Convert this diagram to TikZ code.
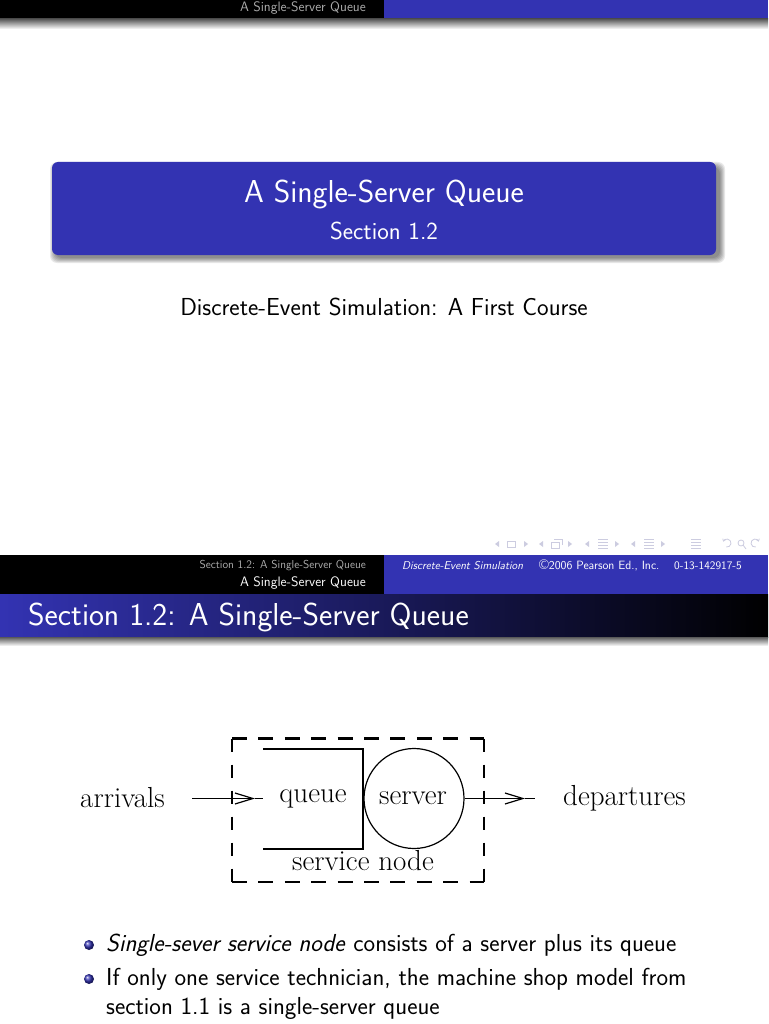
\documentclass[tikz,border=0pt]{standalone}
\usepackage{xcolor}
\usetikzlibrary{arrows.meta,calc,positioning,shadings}
\definecolor{structblue}{rgb}{0.2,0.2,0.7}
\definecolor{headgray}{rgb}{0.68,0.68,0.68}
\definecolor{navgray}{rgb}{0.80,0.80,0.88}
\definecolor{ballblue}{rgb}{0.2,0.2,0.7}
\tikzset{%
	headtext/.style = {inner sep=0pt, font=\sffamily\fontsize{11.5}{13}\selectfont, text=headgray},
	smallhead/.style= {inner sep=0pt, font=\sffamily\fontsize{13.7}{15}\selectfont, text=headgray},
	bigtitle/.style = {inner sep=0pt, font=\sffamily\fontsize{31.7}{35}\selectfont, text=white},
	bodytext/.style = {inner sep=0pt, anchor=base west, font=\sffamily\fontsize{24.6}{28}\selectfont},
	figtext/.style  = {inner sep=0pt, anchor=base, font=\rmfamily\fontsize{29}{33}\selectfont},
	ballmark/.style = {circle, inner sep=0pt, minimum size=10pt, shading=ball, ball color=ballblue},
	dashh/.style    = {line width=2.8pt, dash pattern=on 15pt off 11.4pt},
	dashv/.style    = {line width=2.8pt, dash pattern=on 13.5pt off 12.5pt},
	wall/.style     = {line width=2.8pt},
	flow/.style     = {line width=1.2pt},
	flowtip/.style  = {line width=1.2pt, -{Straight Barb[length=18pt,width=11pt]}},
	navline/.style  = {navgray, line width=0.8pt},
}
\begin{document}
\begin{tikzpicture}[x=1pt,y=-1pt]
			\useasboundingbox (0,0) rectangle (768,1024);
			\fill[white] (0,0) rectangle (768,1024);
			\fill[black] (0,0) rectangle (384,19);
			\fill[structblue] (384,0) rectangle (768,19);
			\shade[top color=black!65,bottom color=white] (0,19) rectangle (768,29);
			\node[smallhead,anchor=east] (toptext) at (366,8) {A Single-Server Queue};
			\foreach \g in {0,1,...,5}
				\fill[black,opacity=0.09,rounded corners=7pt] (55-\g,167-\g) rectangle (720+\g,258+\g);
			\fill[structblue,rounded corners=6pt] (52,162) rectangle (716,255);
			\node[bigtitle] (maintitle) at (384,194) {A Single-Server Queue};
			\node[bodytext,anchor=center,text=white] (subtitle) at (384,231) {Section 1.2};
			\node[bodytext,anchor=center] (course) at (384,307) {Discrete-Event Simulation: A First Course};
			\foreach \x in {497,541,587,633}
				\fill[navgray] (\x+2,541) -- (\x+2,547) -- (\x-2,544) -- cycle;
			\foreach \x in {526,570,617,663}
				\fill[navgray] (\x-2,541) -- (\x-2,547) -- (\x+2,544) -- cycle;
			\draw[navline] (507,541) rectangle (515,547);
			\draw[navline] (551,542) rectangle (559,548);
			\draw[navline] (554,539) -- (562,539) -- (562,545);
			\foreach \x in {603,649,696}
				\foreach \y in {539,542,545,548}
					\draw[navline] (\x-5,\y) -- (\x+5,\y);
			\draw[navline,-{Straight Barb[length=2pt,width=3pt]}] (726.3,547) arc (100:-160:4);
			\draw[navline] (741,543) circle (3);
			\draw[navline] (743,545) -- (746,549);
			\draw[navline,-{Straight Barb[length=2pt,width=3pt]}] (755.7,547) arc (80:340:4);
			\fill[black] (0,555) rectangle (384,594);
			\fill[structblue] (384,555) rectangle (768,594);
			\shade[left color=structblue,right color=black] (0,594) rectangle (768,637);
			\shade[top color=black!65,bottom color=white] (0,637) rectangle (768,646);
			\node[headtext,anchor=east] (sectext) at (366,565.5) {Section 1.2: A Single-Server Queue};
			\node[smallhead,anchor=east,text=white] (subtext) at (366,583) {A Single-Server Queue};
			\node[headtext,anchor=west,text=white,font=\sffamily\itshape\fontsize{11.4}{13}\selectfont] (foottitle) at (402,565.5) {Discrete-Event Simulation};
			\node[headtext,anchor=west,text=white] (footcopy) at (539,565.5) {\fontsize{14}{14}\selectfont\textcopyright\fontsize{12}{13}\selectfont 2006 Pearson Ed., Inc.};
			\node[headtext,anchor=east,text=white] (footisbn) at (742,565.5) {0-13-142917-5};
			\node[bigtitle,anchor=west] (frametitle) at (28,617) {Section 1.2: A Single-Server Queue};
			\draw[dashh] (232,738.5) -- (484,738.5);
			\draw[dashh] (232,882) -- (484,882);
			\draw[dashv] (232,738.5) -- (232,882);
			\draw[dashv] (484,738.5) -- (484,882);
			\draw[wall] (263,749) -- (363,749) -- (363,849) -- (263,849);
			\node[draw,circle,minimum size=100pt,inner sep=0pt,line width=1.2pt] (server) at (414,798.5) {};
			\node[figtext] (servertext) at (413,804.5) {server};
			\node[figtext] (queuetext) at (313,802) {queue};
			\node[figtext] (nodetext) at (363,870) {service node};
			\node[figtext,anchor=base west] (arrivals) at (80,807.3) {arrivals};
			\node[figtext,anchor=base west] (departures) at (563,805) {departures};
			\coordinate (arrstart) at (192,798.5);
			\coordinate (arrtip) at (255,798.5);
			\coordinate (arrend) at (263,798.5);
			\coordinate (deptip) at (525,798.5);
			\coordinate (depend) at (535,798.5);
			\draw[flowtip] (arrstart) -- (arrtip);
			\draw[flow] (arrtip) -- (arrend);
			\draw[flowtip] (server.east) -- (deptip);
			\draw[flow] (deptip) -- (depend);
			\node[ballmark] (ballone) at (89,945) {};
			\node[ballmark] (balltwo) at (89,979) {};
			\node[bodytext] (lineone) at (106,951) {\textit{Single-sever service node} consists of a server plus its queue};
			\node[bodytext] (linetwo) at (106,985) {If only one service technician, the machine shop model from};
			\node[bodytext] (linethree) at (106,1014) {section 1.1 is a single-server queue};
			\end{tikzpicture}
\end{document}
